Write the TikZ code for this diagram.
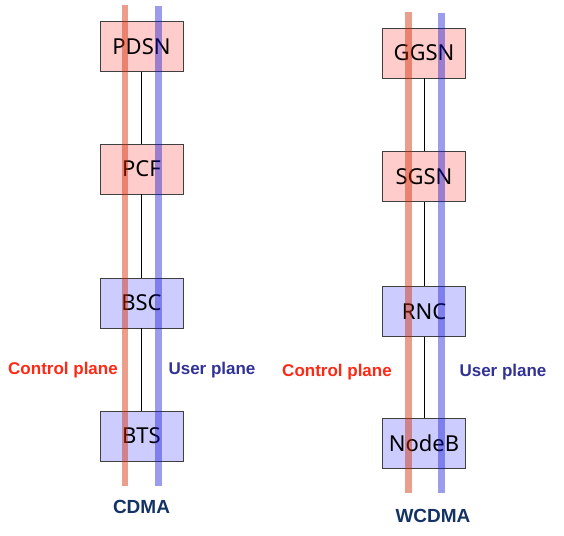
\documentclass[tikz,border=0pt]{standalone}
\usepackage{fontspec}
\setmainfont{Noto Sans}
\newfontfamily\lblfont{Liberation Sans}
\begin{document}
\begin{tikzpicture}[x=1pt,y=-1pt,
  box/.style={draw=black!75,line width=0.8pt,minimum width=83pt,minimum height=50pt,inner sep=0pt,font=\fontsize{22}{26}\selectfont},
  pinkbox/.style={box,fill=pinkfill},
  bluebox/.style={box,fill=bluefill},
  link/.style={draw=black,line width=0.6pt},
  cbar/.style={draw=cbarcol,line width=6.5pt,draw opacity=0.45},
  ubar/.style={draw=ubarcol,line width=7pt,draw opacity=0.42},
  clabel/.style={font=\lblfont\bfseries\fontsize{17}{20}\selectfont,text=ctext},
  ulabel/.style={font=\lblfont\bfseries\fontsize{17}{20}\selectfont,text=utext},
  sysname/.style={font=\lblfont\bfseries\fontsize{19}{22}\selectfont,text=systext}]
\definecolor{pinkfill}{RGB}{255,204,204}
\definecolor{bluefill}{RGB}{204,204,255}
\definecolor{cbarcol}{RGB}{210,40,0}
\definecolor{ubarcol}{RGB}{20,20,210}
\definecolor{ctext}{RGB}{255,40,20}
\definecolor{utext}{RGB}{50,50,150}
\definecolor{systext}{RGB}{20,50,100}
\useasboundingbox (0,0) rectangle (564,535);
% CDMA
\node[pinkbox] (pdsn) at (141.5,46.5) {PDSN};
\node[pinkbox] (pcf) at (141.5,169) {PCF};
\node[bluebox] (bsc) at (141.5,303) {BSC};
\node[bluebox] (bts) at (141.5,436) {BTS};
% WCDMA
\node[pinkbox] (ggsn) at (424,53) {GGSN};
\node[pinkbox] (sgsn) at (424,176.5) {SGSN};
\node[bluebox] (rnc) at (424,311.5) {RNC};
\node[bluebox] (nodeb) at (424,443) {NodeB};
% links
\draw[link] (pdsn) -- (pcf);
\draw[link] (pcf) -- (bsc);
\draw[link] (bsc) -- (bts);
\draw[link] (ggsn) -- (sgsn);
\draw[link] (sgsn) -- (rnc);
\draw[link] (rnc) -- (nodeb);
% bars
\coordinate (c1t) at (125,5); \coordinate (c1b) at (125,486);
\coordinate (u1t) at (158,6); \coordinate (u1b) at (158,486);
\coordinate (c2t) at (408.5,12); \coordinate (c2b) at (408.5,493);
\coordinate (u2t) at (441.5,13); \coordinate (u2b) at (441.5,493);
\draw[cbar] (c1t) -- (c1b);
\draw[ubar] (u1t) -- (u1b);
\draw[cbar] (c2t) -- (c2b);
\draw[ubar] (u2t) -- (u2b);
% labels
\node[clabel] (cl1) at (63,370) {Control plane};
\node[ulabel] (ul1) at (212,370) {User plane};
\node[clabel] (cl2) at (337,372) {Control plane};
\node[ulabel] (ul2) at (503,372) {User plane};
\node[sysname] (cdma) at (141.5,507) {CDMA};
\node[sysname] (wcdma) at (433,516) {WCDMA};
\end{tikzpicture}
\end{document}
